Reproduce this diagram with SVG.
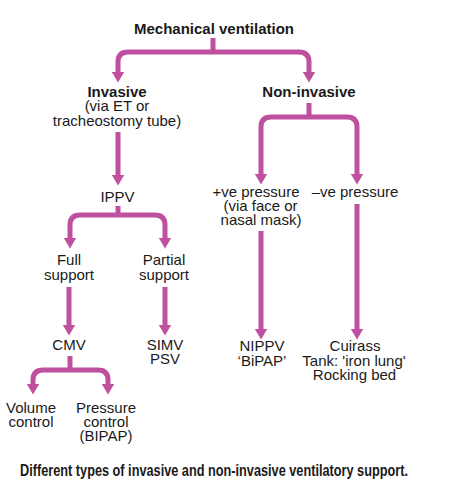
<svg xmlns="http://www.w3.org/2000/svg" width="455" height="500" viewBox="0 0 455 500">
<style>
text{font-family:"Liberation Sans",Arial,sans-serif;font-size:15px;fill:#1a1a1a;text-anchor:middle}
.b{font-weight:bold}
.c{fill:none;stroke:#bf4f9f;stroke-width:5}
.a{marker-end:url(#ah)}
.cap{text-anchor:start;font-size:16px;font-weight:bold}
</style>
<defs>
<marker id="ah" viewBox="0 0 11 13" refX="0.5" refY="6.5" markerWidth="11" markerHeight="13" markerUnits="userSpaceOnUse" orient="auto">
<path d="M0,0 L11,6.5 L0,13 Z" fill="#bf4f9f"/>
</marker>
</defs>
<rect width="455" height="500" fill="#fff"/>
<g id="connectors">
<path class="c" d="M213,38 V54"/>
<path class="c a" d="M213,52 H128 Q118,52 118,62 V72"/>
<path class="c a" d="M213,52 H299 Q309,52 309,62 V72"/>
<path class="c a" d="M118,132 V175"/>
<path class="c" d="M118,206 V217"/>
<path class="c a" d="M118,215 H80 Q70,215 70,225 V238"/>
<path class="c a" d="M118,215 H155 Q165,215 165,225 V238"/>
<path class="c a" d="M69,287 V325"/>
<path class="c a" d="M165,287 V325"/>
<path class="c" d="M70,356 V372"/>
<path class="c a" d="M70,370 H43 Q33,370 33,380 V384"/>
<path class="c a" d="M70,370 H98 Q108,370 108,380 V384"/>
<path class="c" d="M309,103 V119"/>
<path class="c a" d="M309,117 H271 Q261,117 261,127 V174"/>
<path class="c a" d="M309,117 H347 Q357,117 357,127 V174"/>
<path class="c a" d="M261,231 V329"/>
<path class="c a" d="M357,204 V329"/>
</g>
<g id="n-root"><text class="b" x="214" y="34">Mechanical ventilation</text></g>
<g id="n-invasive">
<text x="117" y="97"><tspan class="b">Invasive</tspan><tspan x="117" dy="14">(via ET or</tspan><tspan x="117" dy="15">tracheostomy tube)</tspan></text>
</g>
<g id="n-noninvasive"><text class="b" x="309" y="97">Non-invasive</text></g>
<g id="n-ippv"><text x="117.5" y="202">IPPV</text></g>
<g id="n-full"><text x="69" y="265">Full<tspan x="69" dy="15">support</tspan></text></g>
<g id="n-partial"><text x="164" y="265">Partial<tspan x="164" dy="15">support</tspan></text></g>
<g id="n-cmv"><text x="69" y="350">CMV</text></g>
<g id="n-simv"><text x="165" y="350">SIMV<tspan x="165" dy="14">PSV</tspan></text></g>
<g id="n-volume"><text x="31" y="413">Volume<tspan x="31" dy="14">control</tspan></text></g>
<g id="n-pressure"><text x="106" y="413">Pressure<tspan x="106" dy="14">control</tspan><tspan x="106" dy="14">(BIPAP)</tspan></text></g>
<g id="n-pos"><text x="256" y="197">+ve pressure<tspan x="260.5" dy="14">(via face or</tspan><tspan x="261" dy="14">nasal mask)</tspan></text></g>
<g id="n-neg"><text x="355" y="197">–ve pressure</text></g>
<g id="n-nippv"><text x="262" y="351">NIPPV<tspan x="262" dy="15">‘BiPAP’</tspan></text></g>
<g id="n-cuirass"><text x="355" y="351">Cuirass<tspan x="354" dy="15">Tank: 'iron lung'</tspan><tspan x="354.5" dy="14">Rocking bed</tspan></text></g>
<g id="caption"><text class="cap" transform="translate(20,476) scale(0.8,1)" x="0" y="0" textLength="485" lengthAdjust="spacingAndGlyphs">Different types of invasive and non-invasive ventilatory support.</text></g>
</svg>
